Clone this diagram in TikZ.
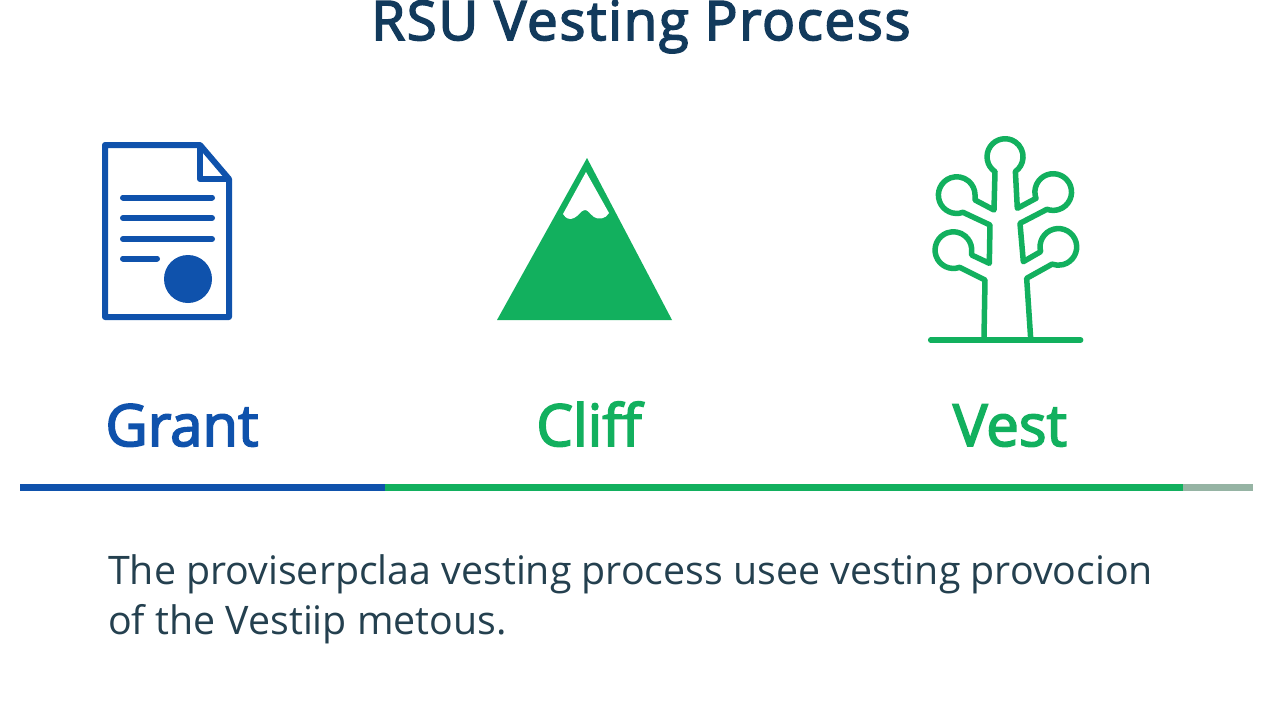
\documentclass[tikz,border=0pt]{standalone}
\usepackage{fontspec}
\setmainfont{Open Sans}
\newfontfamily\semi[FakeBold=3]{Open Sans}
\newfontfamily\semiwide[FakeBold=3,LetterSpace=3.2]{Open Sans}
\definecolor{navy}{HTML}{123A5C}
\definecolor{docblue}{HTML}{0F52AC}
\definecolor{leaf}{HTML}{12B05E}
\definecolor{sage}{HTML}{96B4A4}
\definecolor{bodyink}{HTML}{24404F}
\tikzset{
  title/.style={font=\fontsize{54.5}{55}\selectfont\semiwide,text=navy,inner sep=0pt,anchor=base},
  steplabel/.style={font=\fontsize{58}{58}\selectfont\semi,inner sep=0pt,anchor=base},
  bodyline/.style={font=\fontsize{39.3}{39.5}\selectfont,text=bodyink,inner sep=0pt,anchor=base west},
  docline/.style={draw=docblue,line width=6pt,line join=round},
  docthin/.style={draw=docblue,line width=6pt,line cap=round},
  treeline/.style={draw=leaf,line width=5.5pt,line join=round,line cap=round},
  bar/.style={line width=7pt,line cap=butt}
}
\begin{document}
\begin{tikzpicture}[x=1pt,y=-1pt]
\useasboundingbox (0,0) rectangle (1280,720);
\fill[white] (0,0) rectangle (1280,720);
% title
\node[title] (ttl) at (641,40) {RSU Vesting Process};
% document icon
\draw[docline] (105,145) -- (200,145) -- (229,179) -- (229,317) -- (105,317) -- cycle;
\draw[docline] (200,145) -- (200,179) -- (229,179);
\draw[docthin] (123,197.5) -- (212,197.5);
\draw[docthin] (123,218) -- (212,218);
\draw[docthin] (123,239) -- (212,239);
\draw[docthin] (123,258.5) -- (157,258.5);
\fill[docblue] (188,279) circle (24);
% mountain
\fill[leaf] (587,158) -- (672,320) -- (497,320) -- cycle;
\fill[white] (586,172) -- (609,213) .. controls (606,219) and (598,220) .. (594,217)
  .. controls (590,214) and (588,210) .. (585,210)
  .. controls (581,210) and (579,216) .. (574,218)
  .. controls (570,220) and (566,219) .. (563,214) -- cycle;
% tree
\begin{scope}[shift={(910,120)},x=0.3333pt,y=-0.3333pt]
\draw[treeline] (62,660) -- (512,660);
\draw[treeline]
  (222,655) -- (225,480) -- (149,442)
  arc[start angle=70,end angle=355,radius=55]
  -- (185,405) -- (238,430) -- (240,315) -- (159,277)
  arc[start angle=70,end angle=360,radius=55]
  -- (195,240) -- (252,270) -- (255,155)
  arc[start angle=124,end angle=415,radius=54]
  -- (322,265) -- (378,235)
  arc[start angle=160,end angle=470,radius=55]
  -- (330,310) -- (340,425) -- (392,395)
  arc[start angle=165,end angle=470,radius=55]
  -- (350,475) -- (362,655);
\end{scope}
% labels
\node[steplabel,text=docblue] (grant) at (182,446) {Grant};
\node[steplabel,text=leaf] (cliff) at (589,446) {Cliff};
\node[steplabel,text=leaf] (vest) at (1010,446) {Vest};
% timeline bar
\draw[bar,docblue] (20,487) -- (385,487);
\draw[bar,leaf] (385,487) -- (1183,487);
\draw[bar,sage] (1183,487) -- (1253,487);
% body
\node[bodyline] (l1) at (108,584) {The proviserpclaa vesting process usee vesting provocion};
\node[bodyline] (l2) at (108,634) {of the Vestiip metous.};
\end{tikzpicture}
\end{document}
